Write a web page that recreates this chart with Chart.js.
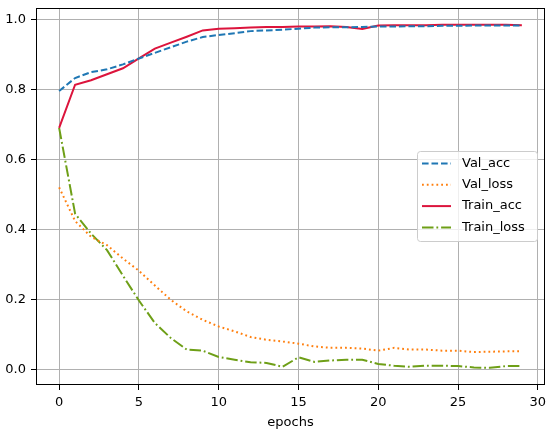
<!DOCTYPE html>
<html>
<head>
<meta charset="utf-8">
<script src="https://cdn.jsdelivr.net/npm/chart.js@4.4.1/dist/chart.umd.min.js"></script>
<style>
  html, body { margin: 0; padding: 0; background: #fff; }
  #wrap { width: 550px; height: 433px; }
</style>
</head>
<body>
<div id="wrap"><canvas id="chart" width="550" height="433"></canvas></div>
<script>
// values
const epochs = [0, 1, 2, 3, 4, 5, 6, 7, 8, 9, 10, 11, 12, 13, 14, 15, 16, 17, 18, 19, 20, 21, 22, 23, 24, 25, 26, 27, 28, 29];
const valAcc = [0.795, 0.832, 0.849, 0.857, 0.871, 0.888, 0.904, 0.920, 0.936, 0.949, 0.955, 0.960, 0.966, 0.968, 0.970, 0.973, 0.976, 0.977, 0.977, 0.978, 0.979, 0.979, 0.980, 0.980, 0.981, 0.981, 0.982, 0.982, 0.982, 0.982];
const valLoss = [0.520, 0.424, 0.379, 0.355, 0.317, 0.282, 0.240, 0.199, 0.166, 0.142, 0.123, 0.109, 0.093, 0.085, 0.080, 0.074, 0.066, 0.062, 0.062, 0.060, 0.054, 0.062, 0.057, 0.057, 0.054, 0.054, 0.050, 0.051, 0.052, 0.052];
const trainAcc = [0.690, 0.813, 0.826, 0.843, 0.860, 0.888, 0.916, 0.933, 0.950, 0.968, 0.973, 0.974, 0.976, 0.978, 0.978, 0.979, 0.979, 0.980, 0.978, 0.972, 0.982, 0.983, 0.983, 0.983, 0.984, 0.984, 0.984, 0.984, 0.984, 0.983];
const trainLoss = [0.690, 0.445, 0.388, 0.341, 0.268, 0.197, 0.133, 0.090, 0.057, 0.054, 0.036, 0.028, 0.021, 0.019, 0.008, 0.035, 0.022, 0.026, 0.028, 0.028, 0.016, 0.011, 0.008, 0.011, 0.011, 0.010, 0.006, 0.005, 0.010, 0.010];
const xTicks = [0, 5, 10, 15, 20, 25, 30];
const yTicks = [0.0, 0.2, 0.4, 0.6, 0.8, 1.0];

const FONT = 'DejaVu Sans';
const FONT_SIZE = 13;

function series(label, values, color, dash) {
    return {
        label: label,
        data: epochs.map((e, i) => ({ x: e, y: values[i] })),
        borderColor: color,
        backgroundColor: color,
        borderWidth: 2,
        borderDash: dash,
        borderCapStyle: 'butt',
        pointRadius: 0,
        tension: 0,
        fill: false
    };
}

// box around the plot, like matplotlib spines
const framePlugin = {
    id: 'frame',
    afterDatasetsDraw(chart) {
        const a = chart.chartArea;
        const ctx = chart.ctx;
        ctx.save();
        ctx.strokeStyle = '#000';
        ctx.lineWidth = 1;
        ctx.strokeRect(Math.round(a.left) + 0.5, Math.round(a.top) + 0.5,
            Math.round(a.right - a.left) - 1, Math.round(a.bottom - a.top) - 1);
        ctx.restore();
    }
};

// legend drawn inside the plot on the right
const legendPlugin = {
    id: 'innerLegend',
    afterDraw(chart) {
        const ctx = chart.ctx;
        const x = 417, y = 151, w = 120, h = 90;
        ctx.save();
        ctx.beginPath();
        ctx.roundRect(x + 0.5, y + 0.5, w, h, 3);
        ctx.fillStyle = 'rgba(255,255,255,0.8)';
        ctx.fill();
        ctx.strokeStyle = '#cccccc';
        ctx.lineWidth = 1;
        ctx.stroke();

        chart.data.datasets.forEach((ds, i) => {
            const rowY = y + 12.5 + i * 21.3;
            ctx.beginPath();
            ctx.setLineDash(ds.borderDash || []);
            ctx.strokeStyle = ds.borderColor;
            ctx.lineWidth = 2;
            ctx.moveTo(422, rowY);
            ctx.lineTo(451, rowY);
            ctx.stroke();
            ctx.setLineDash([]);
            ctx.fillStyle = '#000';
            ctx.font = FONT_SIZE + 'px "' + FONT + '"';
            ctx.textBaseline = 'middle';
            ctx.fillText(ds.label, 462, rowY);
        });
        ctx.restore();
    }
};

const ctx = document.getElementById('chart').getContext('2d');
new Chart(ctx, {
    type: 'line',
    data: {
        datasets: [
            series('Val_acc', valAcc, '#1f77b4', [6.6, 2.9]),
            series('Val_loss', valLoss, '#ff7f0e', [1.8, 3]),
            series('Train_acc', trainAcc, '#dc143c', []),
            series('Train_loss', trainLoss, '#6e9f17', [11.5, 2.9, 1.8, 2.9])
        ]
    },
    options: {
        responsive: false,
        animation: false,
        layout: { padding: { left: 0, right: 5, top: 8, bottom: 0 } },
        plugins: {
            legend: { display: false },
            tooltip: { enabled: false }
        },
        scales: {
            x: {
                type: 'linear',
                min: -1.45,
                max: 30.45,
                afterBuildTicks: (scale) => { scale.ticks = xTicks.map(v => ({ value: v })); },
                afterFit: (scale) => {
                    scale.height = 48;
                    scale.paddingLeft = 0;
                    scale.paddingRight = 0;
                },
                grid: { color: '#b0b0b0', lineWidth: 1, tickLength: 5, tickColor: '#000' },
                border: { display: false },
                ticks: {
                    color: '#000', autoSkip: false, maxRotation: 0, padding: 5,
                    font: { family: FONT, size: FONT_SIZE },
                    callback: (v) => String(v)
                },
                title: {
                    display: true, text: 'epochs', color: '#000',
                    font: { family: FONT, size: FONT_SIZE },
                    padding: { top: 0, bottom: 3 }
                }
            },
            y: {
                min: -0.044,
                max: 1.032,
                afterBuildTicks: (scale) => { scale.ticks = yTicks.map(v => ({ value: v })); },
                afterFit: (scale) => {
                    scale.width = 36;
                    scale.paddingTop = 0;
                    scale.paddingBottom = 0;
                },
                grid: { color: '#b0b0b0', lineWidth: 1, tickLength: 5, tickColor: '#000' },
                border: { display: false },
                ticks: {
                    color: '#000', autoSkip: false, padding: 5,
                    font: { family: FONT, size: FONT_SIZE },
                    callback: (v) => Number(v).toFixed(1)
                }
            }
        }
    },
    plugins: [framePlugin, legendPlugin]
});
</script>
</body>
</html>
